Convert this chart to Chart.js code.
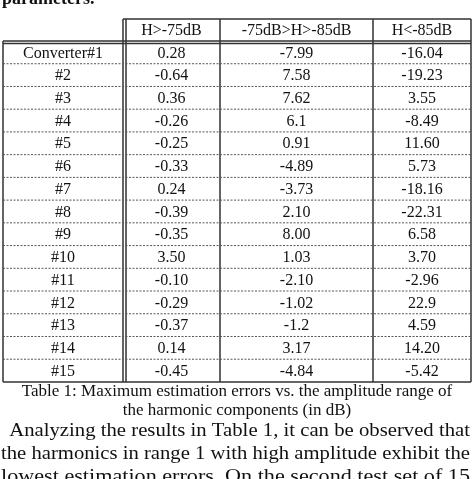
<!DOCTYPE html>
<html><head><meta charset="utf-8">
<script src="https://cdn.jsdelivr.net/npm/chart.js@4/dist/chart.umd.min.js"></script>
<style>html,body{margin:0;padding:0;background:#fff}#wrap{width:474px;height:479px}</style>
</head><body><div id="wrap"><canvas id="c" width="474" height="479"></canvas></div>
<script>
const columns = ["H>-75dB", "-75dB>H>-85dB", "H<-85dB"];
const rowLabels = ["Converter#1","#2","#3","#4","#5","#6","#7","#8","#9","#10","#11","#12","#13","#14","#15"];
const rangeHigh = ["0.28","-0.64","0.36","-0.26","-0.25","-0.33","0.24","-0.39","-0.35","3.50","-0.10","-0.29","-0.37","0.14","-0.45"];
const rangeMid = ["-7.99","7.58","7.62","6.1","0.91","-4.89","-3.73","2.10","8.00","1.03","-2.10","-1.02","-1.2","3.17","-4.84"];
const rangeLow = ["-16.04","-19.23","3.55","-8.49","11.60","5.73","-18.16","-22.31","6.58","3.70","-2.96","22.9","4.59","14.20","-5.42"];
const caption = ["Table 1: Maximum estimation errors vs. the amplitude range of","the harmonic components (in dB)"];
const para = [" Analyzing the results in Table 1, it can be observed that","the harmonics in range 1 with high amplitude exhibit the","lowest estimation errors. On the second test set of 15"];
const topText = "parameters.";

const tablePlugin = {
  id:'table',
  afterDraw(chart){
    const ctx = chart.ctx;
    const xs = [3,123,220,373,471];
    const top = 19, hh = 22, rh = 22.73;
    const yAt = i => top + hh + i*rh;
    const bottom = yAt(rowLabels.length);
    ctx.save();
    ctx.fillStyle='#111'; ctx.textBaseline='middle';
    ctx.font='bold 18px "Liberation Serif"'; ctx.textAlign='left';
    ctx.fillText(topText, 2, -1);
    ctx.font='16px "Liberation Serif"'; ctx.textAlign='center';
    columns.forEach((c,j)=>ctx.fillText(c,(xs[j+1]+xs[j+2])/2, top+hh/2+1));
    const cols=[rowLabels,rangeHigh,rangeMid,rangeLow];
    rowLabels.forEach((_,i)=>{
      const yc=yAt(i)+rh/2+1;
      cols.forEach((arr,j)=>ctx.fillText(arr[i],(xs[j]+xs[j+1])/2,yc));
    });
    ctx.strokeStyle='#333';
    ctx.lineWidth=1.5;
    ctx.beginPath();
    ctx.moveTo(xs[1],top);ctx.lineTo(xs[4],top);
    ctx.moveTo(xs[0],yAt(0));ctx.lineTo(xs[4],yAt(0));
    ctx.moveTo(xs[0],yAt(0)+2.5);ctx.lineTo(xs[4],yAt(0)+2.5);
    ctx.moveTo(xs[0],bottom);ctx.lineTo(xs[4],bottom);
    ctx.moveTo(xs[0],yAt(0));ctx.lineTo(xs[0],bottom);
    ctx.moveTo(xs[1],top);ctx.lineTo(xs[1],bottom);
    ctx.moveTo(xs[1]+3,top);ctx.lineTo(xs[1]+3,bottom);
    ctx.moveTo(xs[2],top);ctx.lineTo(xs[2],bottom);
    ctx.moveTo(xs[3],top);ctx.lineTo(xs[3],bottom);
    ctx.moveTo(xs[4],top);ctx.lineTo(xs[4],bottom);
    ctx.stroke();
    ctx.lineWidth=1; ctx.setLineDash([2,1.5]); ctx.strokeStyle='#555';
    ctx.beginPath();
    for(let i=1;i<rowLabels.length;i++){ctx.moveTo(xs[0],yAt(i));ctx.lineTo(xs[4],yAt(i));}
    ctx.stroke(); ctx.setLineDash([]);
    ctx.font='17px "Liberation Serif"';
    ctx.save();
    const cw=ctx.measureText(caption[0]).width;
    ctx.translate(237,392); ctx.scale(Math.min(1,460/cw),1); ctx.fillText(caption[0],0,0); ctx.restore();
    ctx.fillText(caption[1],237,411);
    ctx.font='19px "Liberation Serif"'; ctx.textAlign='left';
    const paraY=[431,454,477];
    para.forEach((t,i)=>{
      ctx.save();
      const w=ctx.measureText(t).width; const target=470-(i==0?4:1);
      ctx.translate(i==0?4:1,paraY[i]); ctx.scale(target/w,1);
      ctx.fillText(t,0,0); ctx.restore();
    });
    ctx.restore();
  }
};
new Chart(document.getElementById('c'),{
  type:'bar',
  data:{labels:rowLabels,datasets:[{data:[],label:'t'}]},
  options:{responsive:false,animation:false,events:[],
    plugins:{legend:{display:false},tooltip:{enabled:false}},
    scales:{x:{display:false},y:{display:false}}},
  plugins:[tablePlugin]
});
</script></body></html>
